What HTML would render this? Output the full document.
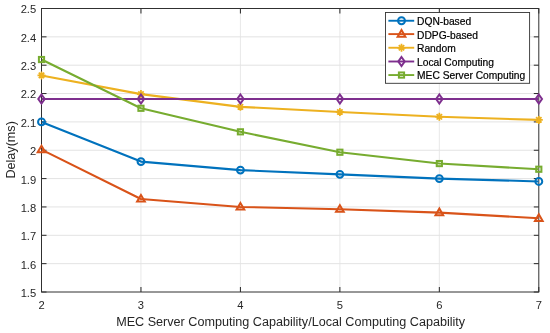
<!DOCTYPE html>
<html><head><meta charset="utf-8"><title>Delay vs capability</title>
<style>html,body{margin:0;padding:0;background:#fff}svg{display:block}</style></head>
<body>
<svg width="550" height="333" viewBox="0 0 550 333" font-family="'Liberation Sans', sans-serif">
<rect width="550" height="333" fill="#fff"/>
<path d="M140.96 8.5 V292.0 M240.42 8.5 V292.0 M339.88 8.5 V292.0 M439.34 8.5 V292.0" stroke="#e8e8e8" stroke-width="1" fill="none"/>
<path d="M41.5 263.65 H538.8 M41.5 235.30 H538.8 M41.5 206.95 H538.8 M41.5 178.60 H538.8 M41.5 150.25 H538.8 M41.5 121.90 H538.8 M41.5 93.55 H538.8 M41.5 65.20 H538.8 M41.5 36.85 H538.8" stroke="#e3e3e3" stroke-width="1" fill="none"/>
<path d="M41.50 292.0 v-5 M41.50 8.5 v5 M140.96 292.0 v-5 M140.96 8.5 v5 M240.42 292.0 v-5 M240.42 8.5 v5 M339.88 292.0 v-5 M339.88 8.5 v5 M439.34 292.0 v-5 M439.34 8.5 v5 M538.80 292.0 v-5 M538.80 8.5 v5 M41.5 292.00 h5 M538.8 292.00 h-5 M41.5 263.65 h5 M538.8 263.65 h-5 M41.5 235.30 h5 M538.8 235.30 h-5 M41.5 206.95 h5 M538.8 206.95 h-5 M41.5 178.60 h5 M538.8 178.60 h-5 M41.5 150.25 h5 M538.8 150.25 h-5 M41.5 121.90 h5 M538.8 121.90 h-5 M41.5 93.55 h5 M538.8 93.55 h-5 M41.5 65.20 h5 M538.8 65.20 h-5 M41.5 36.85 h5 M538.8 36.85 h-5 M41.5 8.50 h5 M538.8 8.50 h-5" stroke="#262626" stroke-width="1" fill="none"/>
<rect x="41.5" y="8.5" width="497.30" height="283.5" fill="none" stroke="#303030" stroke-width="1"/>
<defs><clipPath id="c"><rect x="41.5" y="8.5" width="497.30" height="283.5"/></clipPath></defs>
<polyline points="41.50,121.90 140.96,161.59 240.42,170.10 339.88,174.35 439.34,178.60 538.80,181.44" fill="none" stroke="#0072BD" stroke-width="2.1" stroke-linejoin="round" clip-path="url(#c)"/>
<circle cx="41.50" cy="121.90" r="3.45" fill="none" stroke="#0072BD" stroke-width="2.0"/>
<circle cx="140.96" cy="161.59" r="3.45" fill="none" stroke="#0072BD" stroke-width="2.0"/>
<circle cx="240.42" cy="170.10" r="3.45" fill="none" stroke="#0072BD" stroke-width="2.0"/>
<circle cx="339.88" cy="174.35" r="3.45" fill="none" stroke="#0072BD" stroke-width="2.0"/>
<circle cx="439.34" cy="178.60" r="3.45" fill="none" stroke="#0072BD" stroke-width="2.0"/>
<circle cx="538.80" cy="181.44" r="3.45" fill="none" stroke="#0072BD" stroke-width="2.0"/>
<polyline points="41.50,149.68 140.96,199.01 240.42,206.95 339.88,209.22 439.34,212.62 538.80,218.29" fill="none" stroke="#D95319" stroke-width="2.1" stroke-linejoin="round" clip-path="url(#c)"/>
<path d="M41.50 145.63 L45.35 152.28 L37.65 152.28 Z" fill="none" stroke="#D95319" stroke-width="2.0" stroke-linejoin="miter"/>
<path d="M140.96 194.96 L144.81 201.61 L137.11 201.61 Z" fill="none" stroke="#D95319" stroke-width="2.0" stroke-linejoin="miter"/>
<path d="M240.42 202.90 L244.27 209.55 L236.57 209.55 Z" fill="none" stroke="#D95319" stroke-width="2.0" stroke-linejoin="miter"/>
<path d="M339.88 205.17 L343.73 211.82 L336.03 211.82 Z" fill="none" stroke="#D95319" stroke-width="2.0" stroke-linejoin="miter"/>
<path d="M439.34 208.57 L443.19 215.22 L435.49 215.22 Z" fill="none" stroke="#D95319" stroke-width="2.0" stroke-linejoin="miter"/>
<path d="M538.80 214.24 L542.65 220.89 L534.95 220.89 Z" fill="none" stroke="#D95319" stroke-width="2.0" stroke-linejoin="miter"/>
<polyline points="41.50,75.41 140.96,94.12 240.42,106.87 339.88,111.98 439.34,116.80 538.80,119.92" fill="none" stroke="#EDB120" stroke-width="2.1" stroke-linejoin="round" clip-path="url(#c)"/>
<path d="M37.50 75.41 H45.50 M41.50 71.41 V79.41 M38.80 72.71 L44.20 78.11 M38.80 78.11 L44.20 72.71" fill="none" stroke="#EDB120" stroke-width="1.75"/>
<path d="M136.96 94.12 H144.96 M140.96 90.12 V98.12 M138.26 91.42 L143.66 96.82 M138.26 96.82 L143.66 91.42" fill="none" stroke="#EDB120" stroke-width="1.75"/>
<path d="M236.42 106.87 H244.42 M240.42 102.87 V110.87 M237.72 104.17 L243.12 109.57 M237.72 109.57 L243.12 104.17" fill="none" stroke="#EDB120" stroke-width="1.75"/>
<path d="M335.88 111.98 H343.88 M339.88 107.98 V115.98 M337.18 109.28 L342.58 114.68 M337.18 114.68 L342.58 109.28" fill="none" stroke="#EDB120" stroke-width="1.75"/>
<path d="M435.34 116.80 H443.34 M439.34 112.80 V120.80 M436.64 114.10 L442.04 119.50 M436.64 119.50 L442.04 114.10" fill="none" stroke="#EDB120" stroke-width="1.75"/>
<path d="M534.80 119.92 H542.80 M538.80 115.92 V123.92 M536.10 117.22 L541.50 122.62 M536.10 122.62 L541.50 117.22" fill="none" stroke="#EDB120" stroke-width="1.75"/>
<polyline points="41.50,99.00 140.96,99.00 240.42,99.00 339.88,99.00 439.34,99.00 538.80,99.00" fill="none" stroke="#7E2F8E" stroke-width="2.1" stroke-linejoin="round" clip-path="url(#c)"/>
<path d="M41.50 94.50 L44.70 99.00 L41.50 103.50 L38.30 99.00 Z" fill="none" stroke="#7E2F8E" stroke-width="2.0"/>
<path d="M140.96 94.50 L144.16 99.00 L140.96 103.50 L137.76 99.00 Z" fill="none" stroke="#7E2F8E" stroke-width="2.0"/>
<path d="M240.42 94.50 L243.62 99.00 L240.42 103.50 L237.22 99.00 Z" fill="none" stroke="#7E2F8E" stroke-width="2.0"/>
<path d="M339.88 94.50 L343.08 99.00 L339.88 103.50 L336.68 99.00 Z" fill="none" stroke="#7E2F8E" stroke-width="2.0"/>
<path d="M439.34 94.50 L442.54 99.00 L439.34 103.50 L436.14 99.00 Z" fill="none" stroke="#7E2F8E" stroke-width="2.0"/>
<path d="M538.80 94.50 L542.00 99.00 L538.80 103.50 L535.60 99.00 Z" fill="none" stroke="#7E2F8E" stroke-width="2.0"/>
<polyline points="41.50,59.53 140.96,108.29 240.42,131.82 339.88,152.23 439.34,163.57 538.80,169.24" fill="none" stroke="#77AC30" stroke-width="2.1" stroke-linejoin="round" clip-path="url(#c)"/>
<rect x="38.90" y="56.93" width="5.20" height="5.20" fill="none" stroke="#77AC30" stroke-width="2.0"/>
<rect x="138.36" y="105.69" width="5.20" height="5.20" fill="none" stroke="#77AC30" stroke-width="2.0"/>
<rect x="237.82" y="129.22" width="5.20" height="5.20" fill="none" stroke="#77AC30" stroke-width="2.0"/>
<rect x="337.28" y="149.63" width="5.20" height="5.20" fill="none" stroke="#77AC30" stroke-width="2.0"/>
<rect x="436.74" y="160.97" width="5.20" height="5.20" fill="none" stroke="#77AC30" stroke-width="2.0"/>
<rect x="536.20" y="166.64" width="5.20" height="5.20" fill="none" stroke="#77AC30" stroke-width="2.0"/>
<text x="41.50" y="308.7" font-size="11.2" text-anchor="middle" fill="#262626">2</text>
<text x="140.96" y="308.7" font-size="11.2" text-anchor="middle" fill="#262626">3</text>
<text x="240.42" y="308.7" font-size="11.2" text-anchor="middle" fill="#262626">4</text>
<text x="339.88" y="308.7" font-size="11.2" text-anchor="middle" fill="#262626">5</text>
<text x="439.34" y="308.7" font-size="11.2" text-anchor="middle" fill="#262626">6</text>
<text x="538.80" y="308.7" font-size="11.2" text-anchor="middle" fill="#262626">7</text>
<text x="36.2" y="296.90" font-size="11.2" text-anchor="end" fill="#262626">1.5</text>
<text x="36.2" y="268.55" font-size="11.2" text-anchor="end" fill="#262626">1.6</text>
<text x="36.2" y="240.20" font-size="11.2" text-anchor="end" fill="#262626">1.7</text>
<text x="36.2" y="211.85" font-size="11.2" text-anchor="end" fill="#262626">1.8</text>
<text x="36.2" y="183.50" font-size="11.2" text-anchor="end" fill="#262626">1.9</text>
<text x="36.2" y="155.15" font-size="11.2" text-anchor="end" fill="#262626">2</text>
<text x="36.2" y="126.80" font-size="11.2" text-anchor="end" fill="#262626">2.1</text>
<text x="36.2" y="98.45" font-size="11.2" text-anchor="end" fill="#262626">2.2</text>
<text x="36.2" y="70.10" font-size="11.2" text-anchor="end" fill="#262626">2.3</text>
<text x="36.2" y="41.75" font-size="11.2" text-anchor="end" fill="#262626">2.4</text>
<text x="36.2" y="13.40" font-size="11.2" text-anchor="end" fill="#262626">2.5</text>
<text x="290.65" y="325.8" font-size="12.62" text-anchor="middle" fill="#262626">MEC Server Computing Capability/Local Computing Capability</text>
<text transform="translate(14.6,149.85) rotate(-90)" font-size="12.6" text-anchor="middle" fill="#262626">Delay(ms)</text>
<rect x="385.5" y="12.5" width="144.10000000000002" height="70.8" fill="#fff" stroke="#333" stroke-width="0.9"/>
<path d="M388.4 20.75 H414.2" stroke="#0072BD" stroke-width="1.9" fill="none"/>
<circle cx="401.50" cy="20.75" r="3.45" fill="none" stroke="#0072BD" stroke-width="2.0"/>
<text x="417" y="25.20" font-size="10.25" fill="#000" stroke="#000" stroke-width="0.2">DQN-based</text>
<path d="M388.4 34.1 H414.2" stroke="#D95319" stroke-width="1.9" fill="none"/>
<path d="M401.50 30.05 L405.35 36.70 L397.65 36.70 Z" fill="none" stroke="#D95319" stroke-width="2.0" stroke-linejoin="miter"/>
<text x="417" y="38.75" font-size="10.25" fill="#000" stroke="#000" stroke-width="0.2">DDPG-based</text>
<path d="M388.4 47.75 H414.2" stroke="#EDB120" stroke-width="1.9" fill="none"/>
<path d="M397.50 47.75 H405.50 M401.50 43.75 V51.75 M398.80 45.05 L404.20 50.45 M398.80 50.45 L404.20 45.05" fill="none" stroke="#EDB120" stroke-width="1.75"/>
<text x="417" y="52.40" font-size="10.25" fill="#000" stroke="#000" stroke-width="0.2">Random</text>
<path d="M388.4 61.5 H414.2" stroke="#7E2F8E" stroke-width="1.9" fill="none"/>
<path d="M401.50 57.00 L404.70 61.50 L401.50 66.00 L398.30 61.50 Z" fill="none" stroke="#7E2F8E" stroke-width="2.0"/>
<text x="417" y="66.10" font-size="10.25" fill="#000" stroke="#000" stroke-width="0.2">Local Computing</text>
<path d="M388.4 75.05 H414.2" stroke="#77AC30" stroke-width="1.9" fill="none"/>
<rect x="398.90" y="72.45" width="5.20" height="5.20" fill="none" stroke="#77AC30" stroke-width="2.0"/>
<text x="417" y="79.40" font-size="10.25" fill="#000" stroke="#000" stroke-width="0.2">MEC Server Computing</text>
</svg>
</body></html>
